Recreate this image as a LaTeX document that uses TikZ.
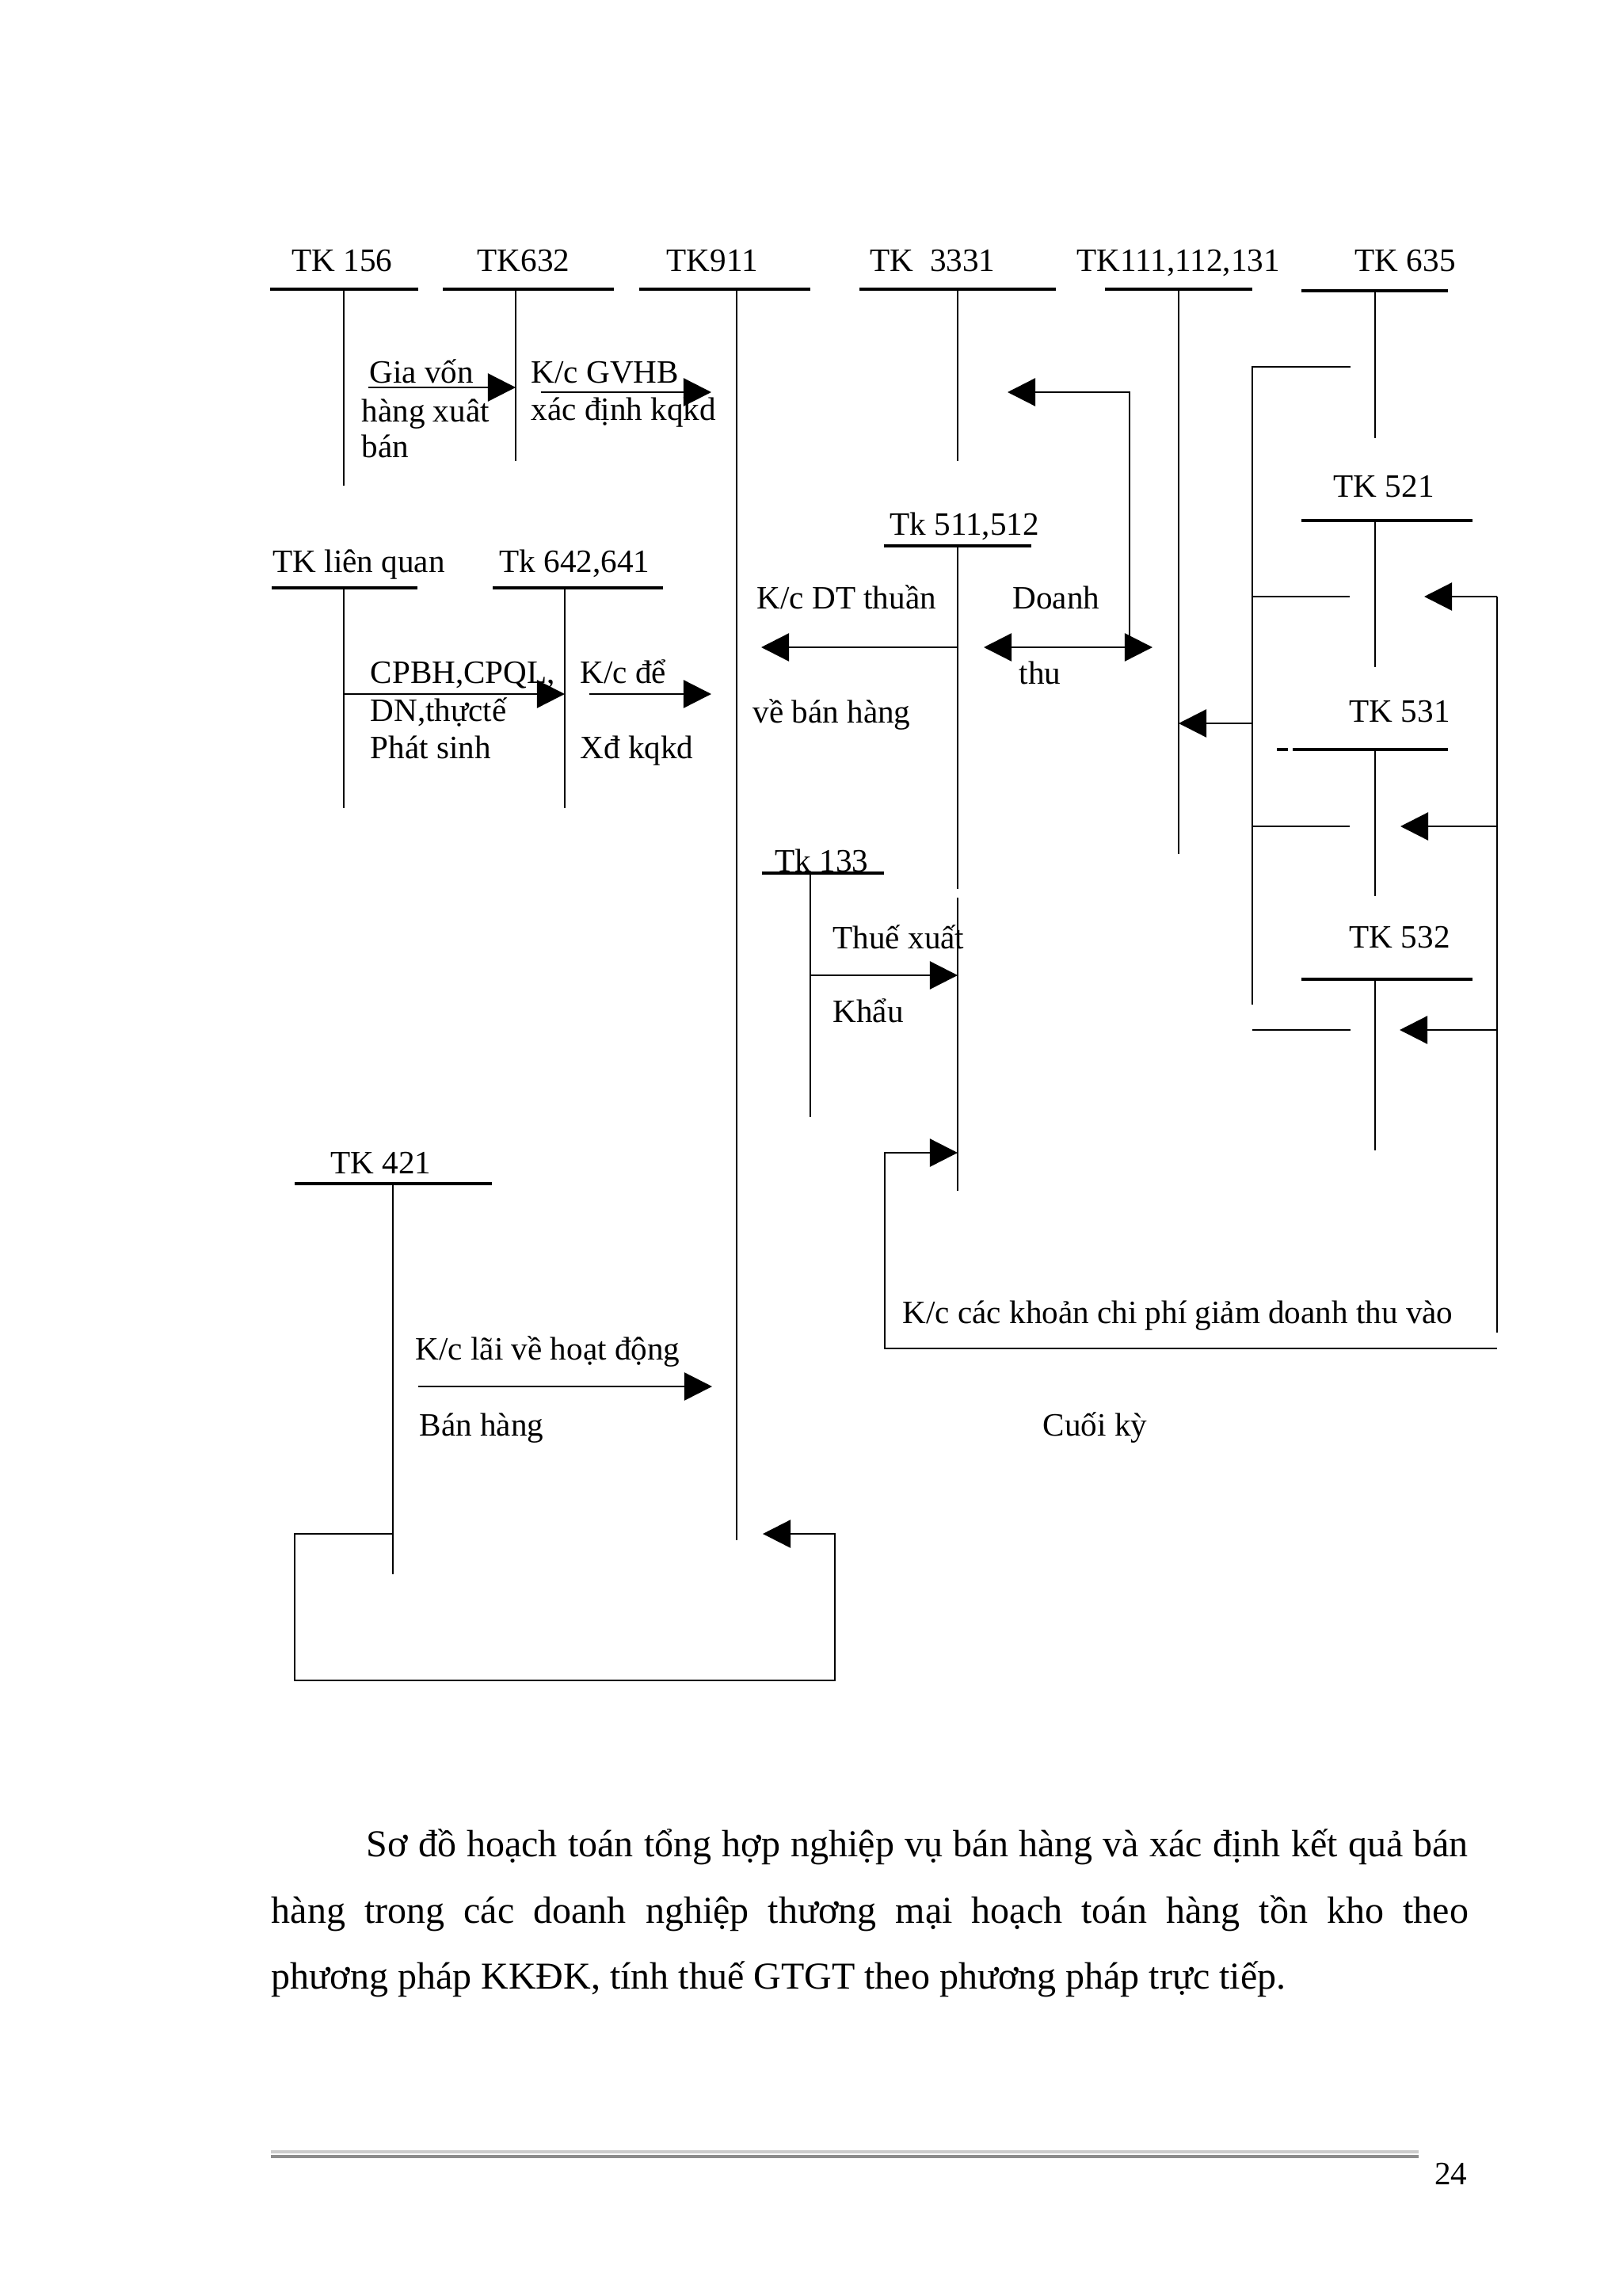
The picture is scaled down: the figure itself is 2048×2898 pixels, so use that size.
\documentclass[tikz,border=0pt]{standalone}
\usepackage{fontspec}
\setmainfont{Liberation Serif}
\usetikzlibrary{arrows.meta}
\tikzset{
  bar/.style={line width=0.9pt},
  stem/.style={line width=0.6pt},
  wire/.style={line width=0.7pt},
  arr/.style={wire, -{Triangle[length=3.6mm,width=3.6mm]}},
  dblarr/.style={wire, {Triangle[length=3.6mm,width=3.6mm]}-{Triangle[length=3.6mm,width=3.6mm]}},
  lbl/.style={anchor=base west, inner sep=0pt, font=\fontsize{12}{14}\selectfont},
  bodytext/.style={anchor=base west, inner sep=0pt, font=\fontsize{14}{17}\selectfont},
}
\newcommand\TAcct[6]{%
  \coordinate (#1-l) at (#2,#5);
  \coordinate (#1-r) at (#3,#5);
  \coordinate (#1-t) at (#4,#5);
  \coordinate (#1-b) at (#4,#6);
  \draw[bar] (#1-l) -- (#1-r);
  \draw[stem] (#1-t) -- (#1-b);
}
\begin{document}
\begin{tikzpicture}[x=0.1025mm, y=-0.1025mm]
\useasboundingbox (0,0) rectangle (2048,2898);

% ---------- T accounts ----------
\TAcct{k156}{341}{528}{434}{365}{613}
\TAcct{k632}{559}{775}{651}{365}{582}
\TAcct{k911}{807}{1023}{930}{365}{1944}
\TAcct{k3331}{1085}{1333}{1209}{365}{582}
\TAcct{k111}{1395}{1581}{1488}{365}{1078}
\TAcct{k635}{1643}{1828}{1736}{367}{553}
\TAcct{klq}{343}{527}{434}{742}{1020}
\TAcct{k642}{622}{837}{713}{742}{1020}
\TAcct{k511}{1116}{1302}{1209}{689}{1122}
\TAcct{k521}{1643}{1859}{1736}{657}{842}
\TAcct{k531}{1632}{1828}{1736}{946}{1131}
\TAcct{k532}{1643}{1859}{1736}{1236}{1452}
\TAcct{k133}{962}{1116}{1023}{1102}{1410}
\TAcct{k421}{372}{621}{496}{1494}{1987}
% lower part of Tk 511 stem and small dash at TK 531
\coordinate (k511-b2t) at (1209,1133);
\coordinate (k511-b2b) at (1209,1503);
\draw[stem] (k511-b2t) -- (k511-b2b);
\coordinate (k531-d1) at (1612,946);
\coordinate (k531-d2) at (1626,946);
\draw[bar] (k531-d1) -- (k531-d2);

% ---------- account titles ----------
\node[lbl] (t156) at (368,342) {TK 156};
\node[lbl] (t632) at (602,342) {TK632};
\node[lbl] (t911) at (841,342) {TK911};
\node[lbl] (t3331) at (1098,342) {TK\ \ 3331};
\node[lbl] (t111) at (1359,342) {TK111,112,131};
\node[lbl] (t635) at (1710,342) {TK 635};
\node[lbl] (tlq) at (344,722) {TK liên quan};
\node[lbl] (t642) at (630,722) {Tk 642,641};
\node[lbl] (t511) at (1123,675) {Tk 511,512};
\node[lbl] (t521) at (1683,627) {TK 521};
\node[lbl] (t531) at (1703,911) {TK 531};
\node[lbl] (t532) at (1703,1196) {TK 532};
\node[lbl] (t133) at (978,1100) {Tk 133};
\node[lbl] (t421) at (417,1481) {TK 421};

% ---------- arrows ----------
\coordinate (gv) at (465,489);
\draw[arr] (gv) -- (gv -| k632-t);
\coordinate (gvhb1) at (683,495);
\coordinate (gvhb2) at (898,495);
\draw[arr] (gvhb1) -- (gvhb2);
\coordinate (cp) at (434,876);
\draw[arr] (cp) -- (cp -| k642-t);
\coordinate (kcd1) at (744,876);
\coordinate (kcd2) at (898,876);
\draw[arr] (kcd1) -- (kcd2);
\coordinate (dt1) at (1209,817);
\coordinate (dt2) at (961,817);
\draw[arr] (dt1) -- (dt2);
\coordinate (dtl) at (1242,817);
\coordinate (dtr) at (1455,817);
\draw[dblarr] (dtl) -- (dtr);
\coordinate (dtv) at (1426,817);
\coordinate (dtu) at (1426,495);
\coordinate (dtu2) at (1272,495);
\draw[arr] (dtv) -- (dtu) -- (dtu2);

% TK 635 and left bus
\coordinate (b635) at (1705,463);
\coordinate (bus-t) at (1581,463);
\coordinate (bus-b) at (1581,1268);
\draw[wire] (b635) -- (bus-t) -- (bus-b);
\coordinate (bus1) at (1581,753);
\coordinate (bus1e) at (1704,753);
\draw[wire] (bus1) -- (bus1e);
\coordinate (bus2) at (1581,1043);
\coordinate (bus2e) at (1704,1043);
\draw[wire] (bus2) -- (bus2e);
\coordinate (bus3) at (1581,1300);
\coordinate (bus3e) at (1705,1300);
\draw[wire] (bus3) -- (bus3e);
\coordinate (bus111) at (1581,913);
\draw[arr] (bus111) -- (bus111 -| k111-t);

% right bus and loop back to Tk 511
\coordinate (rb-t) at (1890,753);
\coordinate (rb-b) at (1890,1682);
\draw[wire] (rb-t) -- (rb-b);
\coordinate (rb1e) at (1798,753);
\draw[arr] (rb-t) -- (rb1e);
\coordinate (rb2) at (1890,1043);
\coordinate (rb2e) at (1768,1043);
\draw[arr] (rb2) -- (rb2e);
\coordinate (rb3) at (1890,1300);
\coordinate (rb3e) at (1767,1300);
\draw[arr] (rb3) -- (rb3e);
\coordinate (lp-r) at (1890,1702);
\coordinate (lp-l) at (1117,1702);
\coordinate (lp-u) at (1117,1455);
\draw[arr] (lp-r) -- (lp-l) -- (lp-u) -- (lp-u -| k511-b2t);

% Tk 133 arrow
\coordinate (tx) at (1023,1231);
\draw[arr] (tx) -- (tx -| k511-b2t);

% TK 421
\coordinate (lai1) at (528,1750);
\coordinate (lai2) at (899,1750);
\draw[arr] (lai1) -- (lai2);
\coordinate (q1) at (496,1936);
\coordinate (q2) at (372,1936);
\coordinate (q3) at (372,2121);
\coordinate (q4) at (1054,2121);
\coordinate (q5) at (1054,1936);
\coordinate (q6) at (963,1936);
\draw[arr] (q1) -- (q2) -- (q3) -- (q4) -- (q5) -- (q6);

% ---------- labels ----------
\node[lbl] (l1) at (466,483) {Gia vốn};
\node[lbl] (l2) at (456,532) {hàng xuât};
\node[lbl] (l3) at (456,577) {bán};
\node[lbl] (l4) at (670,483) {K/c GVHB};
\node[lbl] (l5) at (670,530) {xác định kqkd};
\node[lbl] (l6) at (467,862) {CPBH,CPQL,};
\node[lbl] (l7) at (467,910) {DN,thựctế};
\node[lbl] (l8) at (467,957) {Phát sinh};
\node[lbl] (l9) at (732,862) {K/c để};
\node[lbl] (l10) at (732,957) {Xđ kqkd};
\node[lbl] (l11) at (955,768) {K/c DT thuần};
\node[lbl] (l12) at (950,912) {về bán hàng};
\node[lbl] (l13) at (1278,768) {Doanh};
\node[lbl] (l14) at (1286,863) {thu};
\node[lbl] (l15) at (1051,1197) {Thuế xuất};
\node[lbl] (l16) at (1051,1290) {Khẩu};
\node[lbl] (l17) at (524,1716) {K/c lãi về hoạt động};
\node[lbl] (l18) at (529,1812) {Bán hàng};
\node[lbl] (l19) at (1139,1670) {K/c các khoản chi phí giảm doanh thu vào};
\node[lbl] (l20) at (1316,1812) {Cuối kỳ};

% ---------- caption ----------
\node[bodytext] (p1) at (462,2343) {\makebox[142.58mm][s]{Sơ đồ hoạch toán tổng hợp nghiệp vụ bán hàng và xác định kết quả bán}};
\node[bodytext] (p2) at (342,2427) {\makebox[154.88mm][s]{hàng trong các doanh nghiệp thương mại hoạch toán hàng tồn kho theo}};
\node[bodytext] (p3) at (342,2510) {phương pháp KKĐK, tính thuế GTGT theo phương pháp trực tiếp.};

% ---------- footer ----------
\coordinate (f1) at (342,2716);
\coordinate (f2) at (1791,2716);
\coordinate (f3) at (342,2722);
\coordinate (f4) at (1791,2722);
\draw[black!20, line width=1pt] (f1) -- (f2);
\draw[black!45, line width=1pt] (f3) -- (f4);
\node[lbl, anchor=base east] (pg) at (1853,2757) {24};
\end{tikzpicture}
\end{document}
